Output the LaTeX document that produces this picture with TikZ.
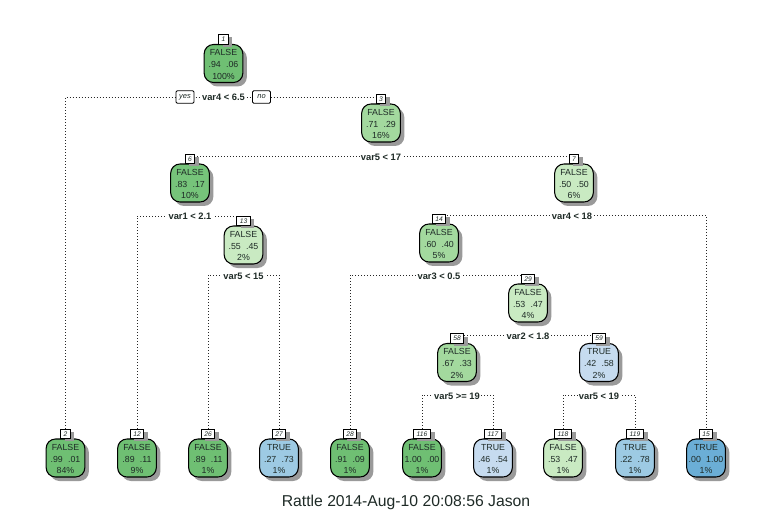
\documentclass[tikz,border=0pt]{standalone}
\usepackage{fontspec}
\setmainfont{Liberation Sans}
\usetikzlibrary{shadows,backgrounds}
\definecolor{gA}{HTML}{6FBF73}
\definecolor{gB}{HTML}{76C47A}
\definecolor{gC}{HTML}{A3D99E}
\definecolor{gD}{HTML}{C9EAC2}
\definecolor{bA}{HTML}{C6DBEF}
\definecolor{bB}{HTML}{9DCAE3}
\definecolor{bC}{HTML}{6BAED6}
\definecolor{ink}{HTML}{1E2A26}
\definecolor{shade}{HTML}{9A9A9A}
\tikzset{
  x=0.75pt,y=-0.75pt,
  treebox/.style={draw=black,line width=0.8pt,rounded corners=7pt,minimum width=29pt,minimum height=28.5pt,inner sep=0pt,
    align=center,text=ink,font=\fontsize{6.6pt}{8.8pt}\selectfont,
    drop shadow={shadow xshift=3pt,shadow yshift=-3pt,fill=shade,opacity=1}},
  idbox/.style={draw=black,line width=0.6pt,fill=white,minimum height=7pt,inner sep=0pt,
    font=\fontsize{5pt}{5pt}\selectfont\itshape,text=ink,
    drop shadow={shadow xshift=3pt,shadow yshift=-2pt,fill=shade,opacity=1}},
  id1/.style={idbox,minimum width=7pt},
  id2/.style={idbox,minimum width=10pt},
  id3/.style={idbox,minimum width=13pt},
  splitlabel/.style={fill=white,inner sep=1pt,text=ink,font=\fontsize{7pt}{8pt}\selectfont\bfseries},
  dirbox/.style={draw=black,line width=0.6pt,fill=white,rounded corners=1pt,minimum width=13.5pt,minimum height=9.5pt,inner sep=0pt,
    font=\fontsize{5.6pt}{6pt}\selectfont\itshape,text=ink},
  conn/.style={line width=0.65pt,dash pattern=on 0.65pt off 1.6pt,draw=black!85},
}
\newcommand{\treenode}[8]{%
  \node[treebox,fill=#4] (n#1) at (#2,#3) {\rule{0pt}{6.2pt}#6\\#7\\#8};
  \node[#5] (l#1) at (#2,#3-24) {#1};
}
\newcommand{\vals}[2]{#1\hspace{0.6em}#2}
\begin{document}
\begin{tikzpicture}
\useasboundingbox (0,0) rectangle (774,513);
% junctions of the split rules
\coordinate (c1) at (223.5,97);
\coordinate (c3) at (381,156);
\coordinate (c6) at (190,216);
\coordinate (c13) at (243.5,275);
\coordinate (c7) at (574,215);
\coordinate (c14) at (439,275);
\coordinate (c29) at (528,335);
\coordinate (c58) at (457,395);
\coordinate (c59) at (599,395);
% tree nodes
\treenode{1}{223.5}{63.5}{gA}{id1}{FALSE}{\vals{.94}{.06}}{100\%}
\treenode{3}{381}{123}{gC}{id1}{FALSE}{\vals{.71}{.29}}{16\%}
\treenode{6}{190}{183}{gB}{id1}{FALSE}{\vals{.83}{.17}}{10\%}
\treenode{7}{574}{183}{gD}{id1}{FALSE}{\vals{.50}{.50}}{6\%}
\treenode{13}{243.5}{245}{gD}{id2}{FALSE}{\vals{.55}{.45}}{2\%}
\treenode{14}{439}{243}{gC}{id2}{FALSE}{\vals{.60}{.40}}{5\%}
\treenode{29}{528}{303}{gD}{id2}{FALSE}{\vals{.53}{.47}}{4\%}
\treenode{58}{457}{362.5}{gC}{id2}{FALSE}{\vals{.67}{.33}}{2\%}
\treenode{59}{599}{362.5}{bA}{id2}{TRUE}{\vals{.42}{.58}}{2\%}
\treenode{2}{65.5}{458}{gA}{id1}{FALSE}{\vals{.99}{.01}}{84\%}
\treenode{12}{137}{458}{gA}{id2}{FALSE}{\vals{.89}{.11}}{9\%}
\treenode{26}{208}{458}{gA}{id2}{FALSE}{\vals{.89}{.11}}{1\%}
\treenode{27}{279}{458}{bB}{id2}{TRUE}{\vals{.27}{.73}}{1\%}
\treenode{28}{350}{458}{gA}{id2}{FALSE}{\vals{.91}{.09}}{1\%}
\treenode{116}{422}{458}{gA}{id3}{FALSE}{\vals{1.00}{.00}}{1\%}
\treenode{117}{493}{458}{bA}{id3}{TRUE}{\vals{.46}{.54}}{1\%}
\treenode{118}{563}{458}{gD}{id3}{FALSE}{\vals{.53}{.47}}{1\%}
\treenode{119}{635}{458}{bB}{id3}{TRUE}{\vals{.22}{.78}}{1\%}
\treenode{15}{706}{458}{bC}{id2}{TRUE}{\vals{.00}{1.00}}{1\%}
% split text
\node[splitlabel] (s1) at (223.5,97.5) {var4 < 6.5};
\node[splitlabel] (s3) at (381,157) {var5 < 17};
\node[splitlabel] (s6) at (190,216.5) {var1 < 2.1};
\node[splitlabel] (s13) at (243.5,276) {var5 < 15};
\node[splitlabel] (s7) at (572,216.5) {var4 < 18};
\node[splitlabel] (s14) at (439,276) {var3 < 0.5};
\node[splitlabel] (s29) at (528,336.5) {var2 < 1.8};
\node[splitlabel] (s58) at (457,396) {var5 >= 19};
\node[splitlabel] (s59) at (599,396) {var5 < 19};
\node[dirbox] (yes) at (185,97) {yes};
\node[dirbox] (no) at (261.5,97) {no};
\node[font=\fontsize{11.8pt}{13pt}\selectfont,text=ink] (title) at (406,502) {Rattle 2014-Aug-10 20:08:56 Jason};
% connectors
\begin{scope}[on background layer]
\draw[conn] (l2.north) |- (c1) -| (l3.north);
\draw[conn] (l6.north) |- (c3) -| (l7.north);
\draw[conn] (l12.north) |- (c6) -| (l13.north);
\draw[conn] (l26.north) |- (c13) -| (l27.north);
\draw[conn] (l14.north) |- (c7) -| (l15.north);
\draw[conn] (l28.north) |- (c14) -| (l29.north);
\draw[conn] (l58.north) |- (c29) -| (l59.north);
\draw[conn] (l116.north) |- (c58) -| (l117.north);
\draw[conn] (l118.north) |- (c59) -| (l119.north);
\end{scope}
\end{tikzpicture}
\end{document}
